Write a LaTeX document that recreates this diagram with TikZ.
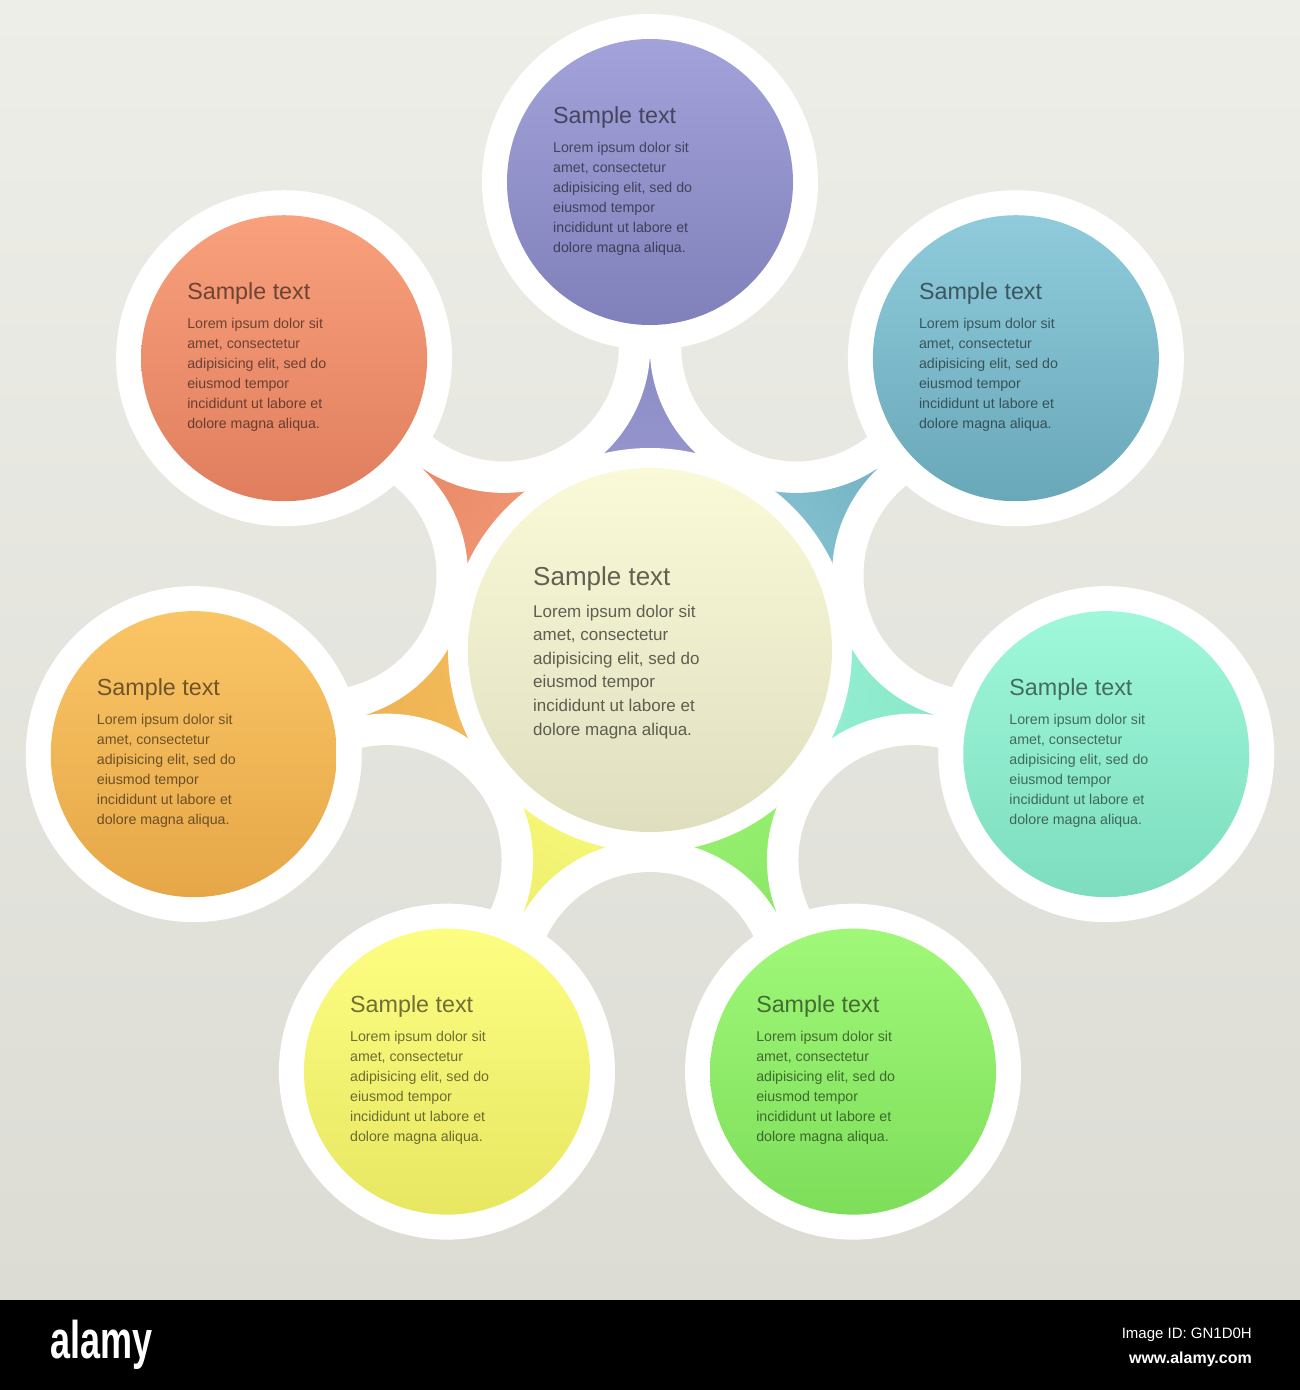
\documentclass[tikz,border=0pt]{standalone}
\usepackage{fontspec}
\setmainfont{Liberation Sans}
\usetikzlibrary{calc}
\definecolor{bgtop}{HTML}{EEEEE8}
\definecolor{bgbot}{HTML}{DCDCD5}
\definecolor{ctop}{HTML}{FAFAD8}
\definecolor{cbot}{HTML}{DFDFC0}
% outer circles: k=0 top, counter-clockwise
\definecolor{t0}{HTML}{A3A2DA}\definecolor{d0}{HTML}{8080BA}
\definecolor{t1}{HTML}{F9A07C}\definecolor{d1}{HTML}{E07E5E}
\definecolor{t2}{HTML}{FAC565}\definecolor{d2}{HTML}{E6A748}
\definecolor{t3}{HTML}{FDFD82}\definecolor{d3}{HTML}{E7E762}
\definecolor{t4}{HTML}{A0F878}\definecolor{d4}{HTML}{7DDE5A}
\definecolor{t5}{HTML}{9FF8DA}\definecolor{d5}{HTML}{7DDDBE}
\definecolor{t6}{HTML}{8FCBDB}\definecolor{d6}{HTML}{69A8B9}
\tikzset{
  title/.style={anchor=base west, inner sep=0pt, text=black, text opacity=0.55,
    font=\fontsize{23.3}{28}\selectfont},
  body/.style={anchor=base west, inner sep=0pt, text=black, text opacity=0.55,
    font=\fontsize{14.2}{17}\selectfont},
  ctitle/.style={anchor=base west, inner sep=0pt, text=black, text opacity=0.6,
    font=\fontsize{26}{31}\selectfont},
  cbody/.style={anchor=base west, inner sep=0pt, text=black, text opacity=0.6,
    font=\fontsize{17}{20}\selectfont},
}
\begin{document}
\begin{tikzpicture}[x=1pt,y=-1pt]
\useasboundingbox (0,0) rectangle (1300,1390);
\shade[top color=bgtop, bottom color=bgbot] (0,0) rectangle (1300,1300);
\coordinate (c) at (650,650);
\foreach \k in {0,...,6}{
  \pgfmathsetmacro\a{90+360/7*\k}
  \pgfmathsetmacro\b{\a+180/7}
  \coordinate (o\k) at ({650+468*cos(\a)},{650-468*sin(\a)});
  \coordinate (h\k) at ({650+337*cos(\b)},{650-337*sin(\b)});
}
% white body (heptagon)
\fill[white] (o0)--(o1)--(o2)--(o3)--(o4)--(o5)--(o6)--cycle;
\begin{scope}
  \clip (o0)--(o1)--(o2)--(o3)--(o4)--(o5)--(o6)--cycle;
  \foreach \k in {0,...,6}{
    \pgfmathtruncatemacro\km{mod(\k+6,7)}
    \pgfmathsetmacro\sa{360/7*\k}
    \shade[top color=d\k, bottom color=t\k, shading angle=\sa]
      (c)--(h\km)--(o\k)--(h\k)--cycle;
  }
  \fill[white] \foreach \k in {0,...,6}{ (h\k) circle[radius=146.5] };
\end{scope}
% background holes
\begin{scope}
  \clip \foreach \k in {0,...,6}{ (h\k) circle[radius=115] };
  \shade[top color=bgtop, bottom color=bgbot] (0,0) rectangle (1300,1300);
\end{scope}
% centre circle
\fill[white] (c) circle[radius=202];
\shade[top color=ctop, bottom color=cbot] (c) circle[radius=182];
% outer circles
\foreach \k in {0,...,6}{
  \fill[white] (o\k) circle[radius=168];
  \shade[top color=t\k, bottom color=d\k] (o\k) circle[radius=143];
  \node[title] (t\k) at ($(o\k)+(-97,-59)$) {Sample text};
  \foreach \ln [count=\j from 0] in {Lorem ipsum dolor sit, {amet, consectetur},
      {adipisicing elit, sed do}, eiusmod tempor, incididunt ut labore et,
      dolore magna aliqua.}{
    \node[body] (b\k-\j) at ($(o\k)+(-97,-30+20*\j)$) {\ln};
  }
}
% centre text
\node[ctitle] (ct) at (533,585) {Sample text};
\foreach \ln [count=\j from 0] in {Lorem ipsum dolor sit, {amet, consectetur},
    {adipisicing elit, sed do}, eiusmod tempor, incididunt ut labore et,
    dolore magna aliqua.}{
  \node[cbody] (cb\j) at (533,617+23.6*\j) {\ln};
}
% bottom bar
\fill[black] (0,1300) rectangle (1300,1390);
\node[anchor=base west, inner sep=0pt, text=white, xscale=0.68,
  font=\fontsize{53}{60}\selectfont\bfseries] (logo) at (50,1358) {alamy};
\node[anchor=base east, inner sep=0pt, text=white,
  font=\fontsize{15}{18}\selectfont] (imgid) at (1252,1338) {Image ID: GN1D0H};
\node[anchor=base east, inner sep=0pt, text=white,
  font=\fontsize{16}{19}\selectfont\bfseries] (www) at (1252,1363) {www.alamy.com};
\end{tikzpicture}
\end{document}
